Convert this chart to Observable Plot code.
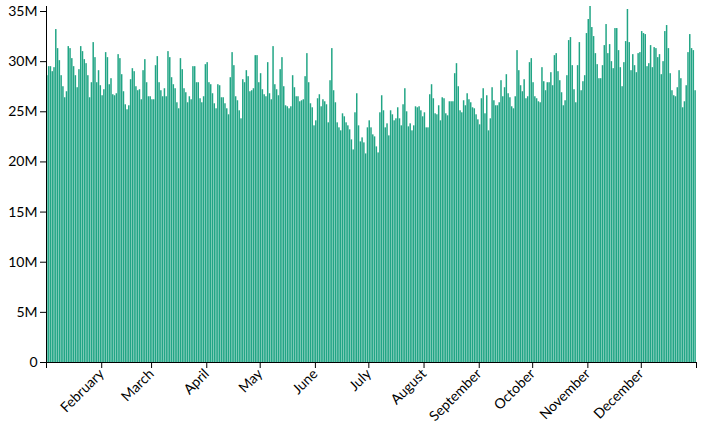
<!DOCTYPE html>
<html>
<head>
<meta charset="utf-8">
<script src="https://cdn.jsdelivr.net/npm/d3@7"></script>
<script src="https://cdn.jsdelivr.net/npm/@observablehq/plot@0.6"></script>
<style>
  html, body { margin: 0; padding: 0; background: #fff; }
  #chart { width: 708px; height: 427px; }
</style>
</head>
<body>
<div id="chart"></div>
<script>
// Daily values in millions, one array per month (non-leap year)
const jan = [28.6, 29.5, 29.5, 29.0, 29.4, 33.2, 31.3, 30.1, 28.6, 27.5, 26.4, 27.0, 31.5, 31.3, 30.3, 29.5, 28.6, 27.4, 29.2, 31.5, 31.0, 30.2, 29.8, 28.6, 26.4, 27.9, 31.9, 30.4, 27.9, 29.1, 27.6];
const feb = [26.6, 27.2, 30.9, 30.4, 27.7, 28.3, 26.7, 26.6, 26.8, 30.7, 30.3, 28.7, 27.0, 25.7, 25.2, 25.6, 28.2, 29.3, 29.0, 27.5, 27.1, 27.2, 26.2, 29.1, 30.2, 27.9, 26.5, 26.5];
const mar = [26.2, 26.2, 29.6, 30.5, 27.9, 27.1, 26.5, 27.3, 26.5, 31.0, 30.4, 28.4, 27.7, 27.3, 25.9, 25.3, 30.3, 29.2, 27.3, 26.9, 25.9, 26.5, 26.2, 29.5, 29.5, 27.9, 27.9, 26.3, 25.9, 26.5, 29.7];
const apr = [29.9, 27.9, 27.7, 26.8, 25.8, 25.3, 27.7, 27.6, 26.4, 26.4, 25.8, 25.3, 24.7, 28.4, 30.9, 29.6, 26.5, 26.1, 25.1, 24.3, 28.2, 27.9, 29.1, 28.5, 27.0, 27.1, 27.3, 30.6, 30.6, 27.9];
const may = [28.8, 27.2, 26.7, 26.5, 29.9, 26.8, 26.2, 31.5, 27.7, 27.2, 26.6, 29.2, 30.4, 27.5, 25.6, 25.5, 25.3, 25.5, 28.6, 27.4, 26.5, 26.5, 26.0, 26.1, 26.2, 28.5, 30.8, 27.9, 25.8, 25.4, 23.6];
const jun = [24.1, 26.3, 26.7, 25.5, 26.2, 26.0, 25.7, 23.9, 28.1, 31.3, 27.1, 25.9, 23.9, 23.4, 23.1, 24.8, 24.5, 23.9, 23.6, 23.2, 22.2, 21.2, 24.9, 26.8, 23.6, 22.0, 22.4, 21.9, 20.8, 23.4];
const jul = [24.1, 23.4, 22.7, 22.5, 21.5, 20.9, 24.9, 26.6, 25.1, 23.4, 23.8, 22.6, 25.1, 24.7, 24.1, 24.3, 25.4, 24.3, 23.6, 25.7, 27.3, 25.0, 23.5, 23.8, 23.1, 23.6, 25.5, 25.4, 25.5, 25.1, 24.5];
const aug = [24.9, 23.4, 23.4, 26.7, 27.7, 26.3, 24.8, 24.7, 25.6, 24.1, 26.4, 26.3, 24.8, 24.6, 26.0, 26.0, 26.0, 28.8, 29.8, 27.5, 25.1, 24.9, 26.1, 25.6, 26.8, 26.2, 25.9, 25.4, 25.3, 24.7, 24.2];
const sep = [23.7, 26.3, 27.3, 24.8, 26.6, 23.1, 24.3, 27.4, 26.1, 25.6, 25.6, 25.9, 28.1, 26.5, 27.4, 28.7, 26.8, 26.4, 25.5, 25.3, 26.5, 31.1, 29.1, 27.6, 27.0, 28.2, 26.3, 26.5, 29.9, 30.3];
const oct = [27.9, 26.5, 26.3, 26.0, 25.9, 29.4, 28.0, 27.1, 27.9, 27.9, 28.9, 27.6, 30.6, 30.8, 29.0, 28.1, 26.9, 25.6, 26.1, 28.6, 32.1, 32.4, 29.6, 27.2, 25.9, 29.6, 31.9, 27.1, 28.0, 28.6, 32.8];
const nov = [34.2, 35.5, 33.4, 32.5, 30.8, 29.7, 28.3, 28.3, 29.6, 31.6, 33.7, 30.8, 31.7, 30.0, 29.3, 33.3, 33.3, 31.1, 29.4, 27.5, 29.9, 32.0, 35.2, 31.9, 29.1, 30.7, 29.6, 28.9, 30.8, 30.9];
const dec = [33.0, 32.8, 32.7, 29.5, 29.8, 31.6, 29.4, 31.4, 31.3, 30.4, 30.7, 28.7, 30.0, 33.0, 33.6, 31.3, 28.8, 27.1, 26.6, 26.5, 27.4, 29.1, 28.3, 25.4, 26.0, 27.6, 30.9, 32.7, 31.3, 31.1, 27.1];

const monthNames = ["January", "February", "March", "April", "May", "June", "July", "August", "September", "October", "November", "December"];
const yTicks = [0, 5, 10, 15, 20, 25, 30, 35];

const values = [jan, feb, mar, apr, may, jun, jul, aug, sep, oct, nov, dec].flat();
const start = new Date(Date.UTC(2019, 0, 1));
const end = new Date(Date.UTC(2020, 0, 1));
const data = values.map((v, i) => ({date: d3.utcDay.offset(start, i), value: v}));
const monthTicks = d3.utcMonth.range(start, d3.utcDay.offset(end, 1));

const chart = Plot.plot({
  width: 708,
  height: 427,
  marginTop: 6,
  marginBottom: 65,
  marginLeft: 46,
  marginRight: 12,
  style: {fontFamily: "Lato, sans-serif", fontSize: "14px", color: "#000", background: "#fff"},
  x: {type: "utc", domain: [start, end]},
  y: {domain: [0, d3.max(values)]},
  marks: [
    Plot.rectY(data, {
      x1: "date",
      x2: d => d3.utcDay.offset(d.date, 1),
      y: "value",
      fill: "#21a585",
      insetLeft: 0.15,
      insetRight: 0.15
    }),
    Plot.ruleX([start], {stroke: "#000"}),
    Plot.ruleY([0], {stroke: "#000"}),
    Plot.axisY({
      ticks: yTicks,
      tickFormat: d => d === 0 ? "0" : d + "M",
      tickSize: 6,
      tickPadding: 3,
      label: null
    }),
    Plot.axisX({
      ticks: monthTicks,
      tickFormat: d => (d.getUTCMonth() === 0 ? "" : monthNames[d.getUTCMonth()]),
      tickRotate: -45,
      tickSize: 6,
      tickPadding: 3,
      label: null
    })
  ]
});
document.getElementById("chart").append(chart);
</script>
</body>
</html>
